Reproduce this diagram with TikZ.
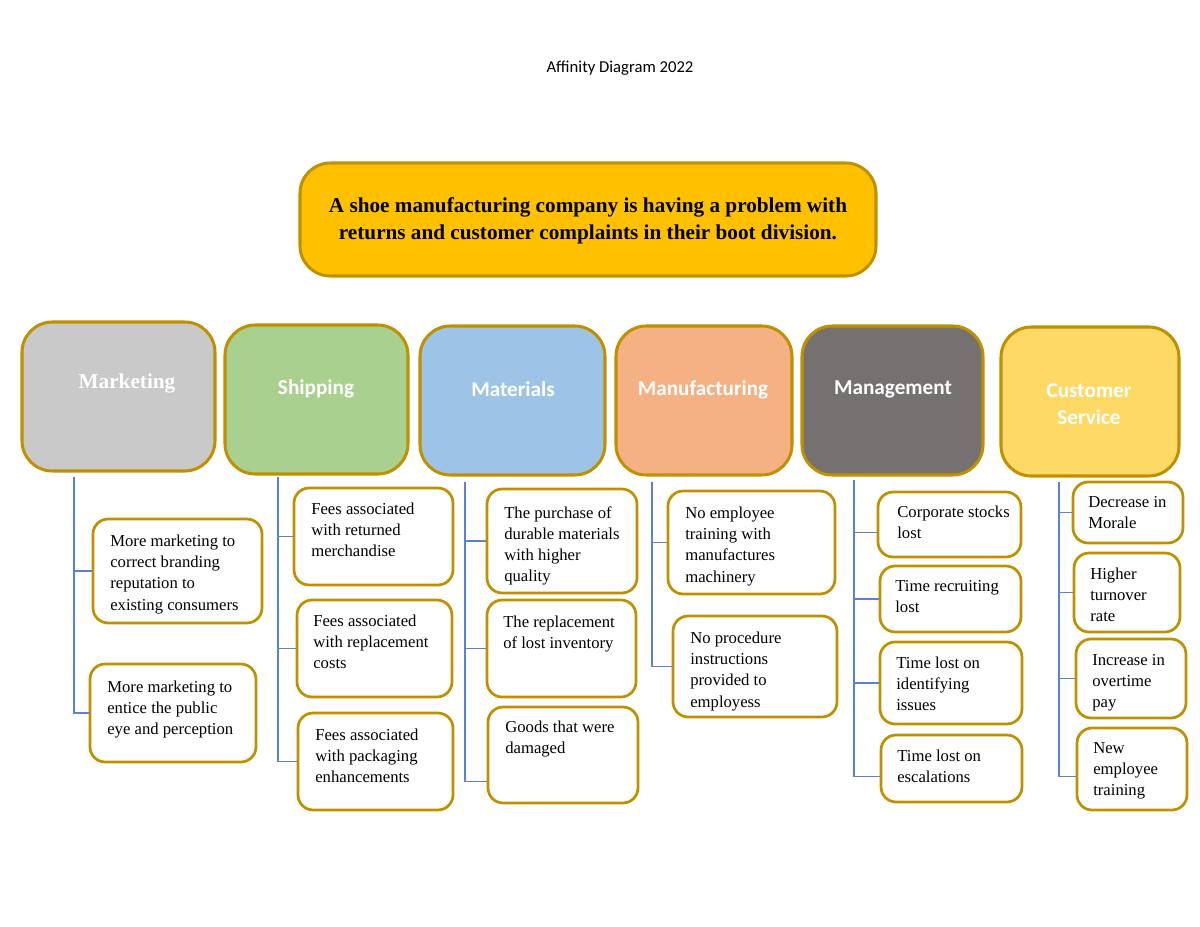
\documentclass[tikz,border=0pt]{standalone}
\usepackage{fontspec}
\setmainfont{Liberation Serif}
\newfontfamily\hdrsans{Carlito}
\usetikzlibrary{fit}
\definecolor{bord}{HTML}{BF9000}
\definecolor{linkblue}{HTML}{5B82D2}
\definecolor{topfill}{HTML}{FFC000}
\definecolor{mkfill}{HTML}{C9C9C9}
\definecolor{shfill}{HTML}{A9D08E}
\definecolor{mtfill}{HTML}{9DC3E6}
\definecolor{mffill}{HTML}{F4B183}
\definecolor{mgfill}{HTML}{767171}
\definecolor{csfill}{HTML}{FFD966}
\tikzset{
  hdrbox/.style={draw=bord, line width=2pt, rounded corners=20pt, inner sep=0pt},
  itembox/.style={draw=bord, line width=1.8pt, rounded corners=10pt, inner sep=0pt},
  itxt/.style={anchor=north west, inner sep=0pt, align=left, font=\fontsize{11}{13.9}\selectfont},
  htxt/.style={inner sep=0pt, align=center, text=white, font=\hdrsans\bfseries\fontsize{14}{17.8}\selectfont},
  link/.style={draw=linkblue, line width=0.7pt}
}
\begin{document}
\begin{tikzpicture}[x=0.66pt,y=-0.66pt]
\useasboundingbox (0,0) rectangle (1200,927);
% title
\node[inner sep=0pt, font=\hdrsans\fontsize{11}{13}\selectfont] (title) at (620,68) {Affinity Diagram 2022};
% top problem box
\node[hdrbox, fill=topfill, fit={(300,163)(876,276)}] (top) {};
\node[inner sep=0pt, align=center, font=\bfseries\fontsize{14}{17.8}\selectfont] (toptxt) at (588,221) {A shoe manufacturing company is having a problem with\\returns and customer complaints in their boot division.};
% headers
\node[hdrbox, fill=mkfill, fit={(22,322)(215,471)}] (mk) {};
\node[inner sep=0pt, text=white, font=\bfseries\fontsize{14}{17}\selectfont] (mkt) at (127,383) {Marketing};
\node[hdrbox, fill=shfill, fit={(225,325)(408,474)}] (sh) {};
\node[htxt] (sht) at (316,388.5) {Shipping};
\node[hdrbox, fill=mtfill, fit={(420,326)(605,475)}] (mt) {};
\node[htxt] (mtt) at (513,389) {Materials};
\node[hdrbox, fill=mffill, fit={(616,326)(792,475)}] (mf) {};
\node[htxt] (mft) at (703,389.5) {Manufacturing};
\node[hdrbox, fill=mgfill, fit={(802,326)(983,475)}] (mg) {};
\node[htxt] (mgt) at (893,389.5) {Management};
\node[hdrbox, fill=csfill, fit={(1001,327)(1179,476)}] (cs) {};
\node[htxt] (cst) at (1089,404.5) {Customer\\Service};
% Marketing items
\node[itembox, fit={(93,519)(262,623)}] (m1) {};
\node[itxt] (m1t) at (110,535) {More marketing to\\correct branding\\reputation to\\existing consumers};
\node[itembox, fit={(90,664)(256,762)}] (m2) {};
\node[itxt] (m2t) at (107,681) {More marketing to\\entice the public\\eye and perception};
% Shipping items
\node[itembox, fit={(294,488)(453,585)}] (s1) {};
\node[itxt] (s1t) at (311,503) {Fees associated\\with returned\\merchandise};
\node[itembox, fit={(297,600)(452,697)}] (s2) {};
\node[itxt] (s2t) at (313,615) {Fees associated\\with replacement\\costs};
\node[itembox, fit={(298,713)(453,810)}] (s3) {};
\node[itxt] (s3t) at (315,729) {Fees associated\\with packaging\\enhancements};
% Materials items
\node[itembox, fit={(487,489)(637,593)}] (t1) {};
\node[itxt] (t1t) at (504,506) {The purchase of\\durable materials\\with higher\\quality};
\node[itembox, fit={(487,600)(636,697)}] (t2) {};
\node[itxt] (t2t) at (503,616) {The replacement\\of lost inventory};
\node[itembox, fit={(488,707)(638,803)}] (t3) {};
\node[itxt] (t3t) at (505,721) {Goods that were\\damaged};
% Manufacturing items
\node[itembox, fit={(668,491)(835,594)}] (f1) {};
\node[itxt] (f1t) at (685,507) {No employee\\training with\\manufactures\\machinery};
\node[itembox, fit={(673,616)(837,717)}] (f2) {};
\node[itxt] (f2t) at (690,632) {No procedure\\instructions\\provided to\\employess};
% Management items
\node[itembox, fit={(878,492)(1021,557)}] (g1) {};
\node[itxt] (g1t) at (897,506) {Corporate stocks\\lost};
\node[itembox, fit={(880,566)(1021,632)}] (g2) {};
\node[itxt] (g2t) at (895,580) {Time recruiting\\lost};
\node[itembox, fit={(880,642)(1022,724)}] (g3) {};
\node[itxt] (g3t) at (896,657) {Time lost on\\identifying\\issues};
\node[itembox, fit={(881,735)(1022,802)}] (g4) {};
\node[itxt] (g4t) at (897,750) {Time lost on\\escalations};
% Customer Service items
\node[itembox, fit={(1073,482)(1183,543)}] (c1) {};
\node[itxt] (c1t) at (1088,496) {Decrease in\\Morale};
\node[itembox, fit={(1074,553)(1180,632)}] (c2) {};
\node[itxt] (c2t) at (1090,568) {Higher\\turnover\\rate};
\node[itembox, fit={(1076,639)(1186,718)}] (c3) {};
\node[itxt] (c3t) at (1092,654) {Increase in\\overtime\\pay};
\node[itembox, fit={(1077,728)(1187,810)}] (c4) {};
\node[itxt] (c4t) at (1093,742) {New\\employee\\training};
% trunk tops
\coordinate (mkr) at (74,477);
\coordinate (shr) at (278,477);
\coordinate (mtr) at (465,482);
\coordinate (mfr) at (652,482);
\coordinate (mgr) at (854,480);
\coordinate (csr) at (1059,482);
% connectors
\draw[link] (mkr) |- (m1.west);
\draw[link] (mkr) |- (m2.west);
\draw[link] (shr) |- (s1.west);
\draw[link] (shr) |- (s2.west);
\draw[link] (shr) |- (s3.west);
\draw[link] (mtr) |- (t1.west);
\draw[link] (mtr) |- (t2.west);
\draw[link] (mtr) |- ([yshift=15pt]t3.south west);
\draw[link] (mfr) |- (f1.west);
\draw[link] (mfr) |- (f2.west);
\draw[link] (mgr) |- ([yshift=-5pt]g1.west);
\draw[link] (mgr) |- (g2.west);
\draw[link] (mgr) |- (g3.west);
\draw[link] (mgr) |- ([yshift=-5.5pt]g4.west);
\draw[link] (csr) |- (c1.west);
\draw[link] (csr) |- (c2.west);
\draw[link] (csr) |- (c3.west);
\draw[link] (csr) |- ([yshift=-5pt]c4.west);
\end{tikzpicture}
\end{document}
